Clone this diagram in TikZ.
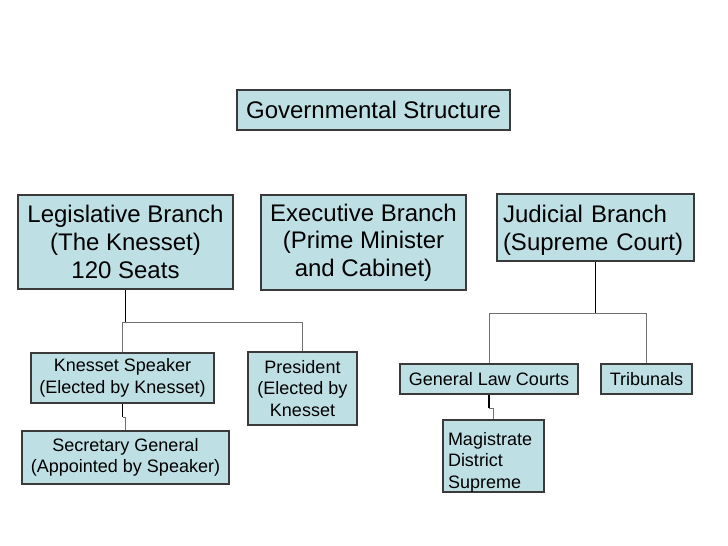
\documentclass[tikz,border=0pt]{standalone}
\usepackage{fontspec}
\setmainfont{Liberation Sans}
\usetikzlibrary{positioning}
\usepackage{xcolor}
\definecolor{boxfill}{HTML}{BEE0E4}
\definecolor{boxline}{HTML}{3A3A3A}
\definecolor{link}{HTML}{707070}

\tikzset{
  orgbox/.style={draw=boxline,fill=boxfill,line width=1.3pt,inner sep=0pt,align=center},
  bigtext/.style={font=\fontsize{24}{27.6}\selectfont},
  smalltext/.style={font=\fontsize{18}{21.6}\selectfont},
  trunk/.style={draw=black,line width=1.1pt},
  branch/.style={draw=link,line width=0.9pt}
}

\begin{document}
\begin{tikzpicture}[x=1pt,y=-1pt]
  \useasboundingbox[fill=white] (0,0) rectangle (728,546);

  % top row
  \node[orgbox,bigtext,minimum width=273pt,minimum height=40pt] (title) at (373.5,110) {Governmental Structure};
  \node[orgbox,bigtext,minimum width=215pt,minimum height=94pt] (legis) at (125.5,242) {Legislative Branch\\(The Knesset)\\120 Seats};
  \node[orgbox,bigtext,minimum width=205pt,minimum height=95pt] (exec) at (363.5,242.5) {Executive Branch\\(Prime Minister\\and Cabinet)};
  \node[orgbox,bigtext,minimum width=197pt,minimum height=67pt,inner xsep=6pt,text width=185pt,align=left] (judic) at (595.5,227.5) {\rule{0pt}{23pt}Judicial Branch\\(Supreme Court)};

  % legislative side
  \node[orgbox,smalltext,minimum width=183pt,minimum height=50pt] (speaker) at (122.5,378) {Knesset Speaker\\(Elected by Knesset)};
  \node[orgbox,smalltext,minimum width=109pt,minimum height=73pt] (president) at (302.5,388.5) {President\\(Elected by\\Knesset};
  \node[orgbox,smalltext,minimum width=207pt,minimum height=53pt] (secgen) at (125.5,457.5) {Secretary General\\(Appointed by Speaker)};

  % judicial side
  \node[orgbox,smalltext,minimum width=178pt,minimum height=30pt] (courts) at (489,379) {General Law Courts};
  \node[orgbox,smalltext,minimum width=91pt,minimum height=30pt] (tribunals) at (646.5,379) {Tribunals};
  \node[orgbox,smalltext,minimum width=101pt,minimum height=64pt,inner xsep=5pt,text width=91pt,align=left] (magis) at (493.5,456) {\rule{0pt}{25pt}Magistrate\\District\\Supreme};

  % connectors
  \coordinate (lj) at (125.5,322);
  \coordinate (jj) at (595.5,313);
  \coordinate (sj) at (122.5,417);
  \coordinate (cj) at (489,408);
  \draw[trunk] (legis.south) -- (lj);
  \draw[branch] (speaker.north) -- (speaker.north |- lj) -| (president.north);
  \draw[trunk] (judic.south) -- (jj);
  \draw[branch] (courts.north) -- (courts.north |- jj) -| (tribunals.north);
  \draw[trunk] (speaker.south) -- (sj);
  \draw[branch] (sj) -| (secgen.north);
  \draw[trunk] (courts.south) -- (cj);
  \draw[branch] (cj) -| (magis.north);
\end{tikzpicture}
\end{document}
